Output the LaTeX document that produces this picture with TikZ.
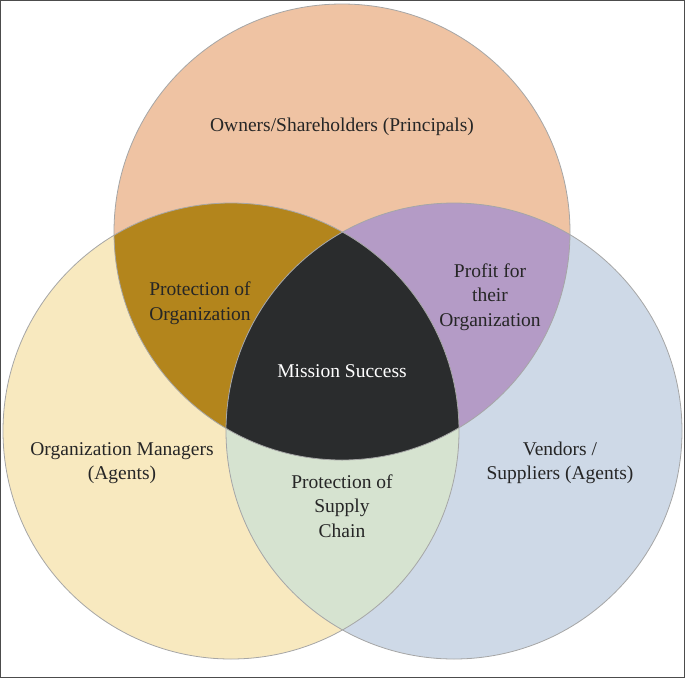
\documentclass[tikz,border=0pt]{standalone}
\usepackage{fontspec}
\setmainfont{Liberation Serif}
\begin{document}
\begin{tikzpicture}[x=1pt,y=-1pt,
  lbl/.style={align=center,font=\fontsize{19.5}{24.5}\selectfont,text=black!85},
  ring/.style={draw=gray!70,line width=0.8pt}]
\definecolor{cTop}{HTML}{EFC3A3}
\definecolor{cLeft}{HTML}{F8E9BF}
\definecolor{cRight}{HTML}{CED9E7}
\definecolor{cTL}{HTML}{B3851C}
\definecolor{cTR}{HTML}{B49BC6}
\definecolor{cLR}{HTML}{D6E3D0}
\definecolor{cC}{HTML}{2A2C2D}
\useasboundingbox (0,0) rectangle (685,678);
\fill[white] (0,0) rectangle (685,678);
\coordinate (T) at (342,232);
\coordinate (L) at (231,431);
\coordinate (R) at (454,431);
\def\rr{228}
\fill[cTop] (T) circle (\rr);
\fill[cLeft] (L) circle (\rr);
\fill[cRight] (R) circle (\rr);
\begin{scope}\clip (T) circle (\rr); \fill[cTL] (L) circle (\rr); \fill[cTR] (R) circle (\rr);\end{scope}
\begin{scope}\clip (L) circle (\rr); \fill[cLR] (R) circle (\rr);
  \clip (T) circle (\rr); \fill[cC] (R) circle (\rr);\end{scope}
\draw[ring] (T) circle (\rr);
\draw[ring] (L) circle (\rr);
\draw[ring] (R) circle (\rr);
\draw[black!70,line width=1pt] (0.5,0.5) rectangle (684.5,677.5);
\node[lbl] (n1) at (342,127) {Owners/Shareholders (Principals)};
\node[lbl] (n2) at (200,303) {Protection of\\Organization};
\node[lbl] (n3) at (490,297) {Profit for\\their\\Organization};
\node[lbl,text=white] (n4) at (342,371) {Mission Success};
\node[lbl] (n5) at (122,463) {Organization Managers\\(Agents)};
\node[lbl] (n6) at (342,506) {Protection of\\Supply\\Chain};
\node[lbl] (n7) at (560,463) {Vendors /\\Suppliers (Agents)};
\end{tikzpicture}
\end{document}
